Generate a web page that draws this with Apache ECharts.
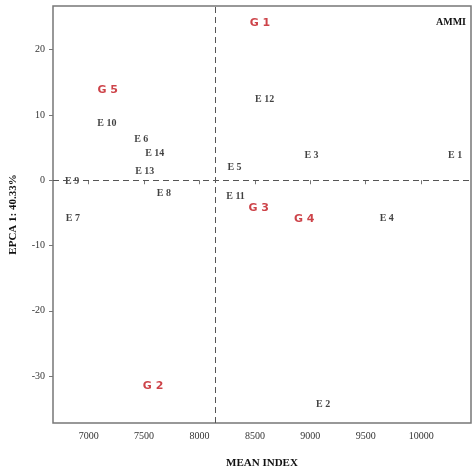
<!DOCTYPE html><html><head><meta charset="utf-8">
<script src="https://cdn.jsdelivr.net/npm/echarts@6/dist/echarts.min.js"></script>
<style>html,body{margin:0;padding:0;background:#fff}#c{width:474px;height:474px}</style></head><body><div id="c"></div>
<script>
const envNames=["E 1","E 2","E 3","E 4","E 5","E 6","E 7","E 8","E 9","E 10","E 11","E 12","E 13","E 14"];
const envX=[10307,9115,9011,9690,8316,7474,6857,7679,6851,7164,8325,8588,7506,7596];
const envY=[3.8,-34.3,3.8,-5.9,2.0,6.3,-5.8,-2.0,-0.2,8.7,-2.5,12.4,1.4,4.1];
const genNames=["G 1","G 2","G 3","G 4","G 5"];
const genX=[8546,7581,8534,8945,7172];
const genY=[24.0,-31.6,-4.2,-6.0,13.8];
const xTicks=[7000,7500,8000,8500,9000,9500,10000];
const yTicks=[-30,-20,-10,0,10,20];
const grandMean=8144;
const serif='"Liberation Serif","DejaVu Serif",serif';
const chart=echarts.init(document.getElementById('c'));
chart.setOption({
 animation:false,
 grid:{left:49,right:3,top:6,bottom:51,show:true,borderColor:'#777',borderWidth:1.5},
 xAxis:{type:'value',min:6678,max:10450,name:'MEAN INDEX',nameLocation:'middle',nameGap:35,
  nameTextStyle:{fontFamily:serif,fontWeight:'bold',fontSize:11,color:'#111'},
  axisLine:{show:false},splitLine:{show:false},
  axisTick:{show:true,customValues:xTicks,length:4,lineStyle:{color:'#777'}},
  axisLabel:{customValues:xTicks,formatter:v=>String(v),fontFamily:serif,fontSize:10,color:'#333'}},
 yAxis:{type:'value',min:-37.2,max:26.7,name:'EPCA 1: 40.33%',nameLocation:'middle',nameGap:34,
  nameTextStyle:{fontFamily:serif,fontWeight:'bold',fontSize:11,color:'#111'},
  axisLine:{show:false},splitLine:{show:false},
  axisTick:{show:true,customValues:yTicks,length:4,lineStyle:{color:'#777'}},
  axisLabel:{customValues:yTicks,formatter:v=>String(v),fontFamily:serif,fontSize:10,color:'#333'}},
 graphic:[
  {type:'text',right:8,top:17,style:{text:'AMMI',font:'bold 10px '+serif,fill:'#111'}}
 ],
 series:[
  {type:'scatter',symbolSize:0,data:envX.map((x,i)=>[x,envY[i],envNames[i]]),
   label:{show:true,position:'inside',formatter:p=>p.value[2],fontFamily:serif,fontWeight:'bold',fontSize:10,color:'#111'},
   markLine:{silent:true,symbol:'none',label:{show:false},lineStyle:{type:[6,4],color:'#555',width:1},
    data:[{xAxis:grandMean},{yAxis:0}]}},
  {type:'scatter',symbolSize:0,data:genX.map((x,i)=>[x,genY[i],genNames[i]]),
   label:{show:true,position:'inside',formatter:p=>p.value[2],fontFamily:'"DejaVu Sans",sans-serif',fontWeight:'bold',fontSize:11,color:'#c0141c'}}
 ]
});
</script></body></html>
